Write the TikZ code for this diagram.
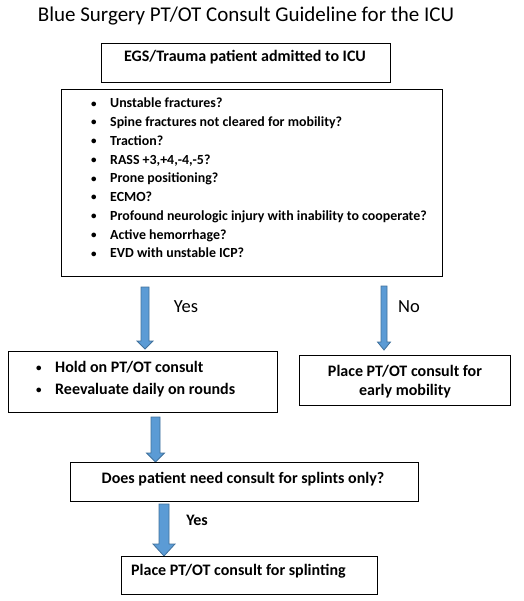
\documentclass[tikz,border=0pt]{standalone}
\usepackage{fontspec}
\setmainfont{Carlito}
\definecolor{arrfill}{HTML}{5B9BD5}
\definecolor{arrline}{HTML}{41719C}
\tikzset{
  box/.style={draw=black, line width=1.2pt, anchor=north west, inner sep=0pt},
  txt/.style={inner sep=0pt, font=\bfseries\fontsize{16}{19}\selectfont},
  listtxt/.style={inner sep=0pt, font=\bfseries\fontsize{13.9}{18.75}\selectfont},
  plain/.style={inner sep=0pt, font=\fontsize{18.5}{22}\selectfont},
  titletxt/.style={inner sep=0pt, font=\fontsize{21}{25}\selectfont},
  barrow/.style={fill=arrfill, draw=arrline, line width=0.8pt, line join=miter}
}
\newcommand{\blockarrow}[6]{% x, ytop, ytip, halfshaft, halfhead, headlen
  \draw[barrow] ({#1-#4},#2) -- ({#1+#4},#2) -- ({#1+#4},{#3-#6}) -- ({#1+#5},{#3-#6}) -- (#1,#3) -- ({#1-#5},{#3-#6}) -- ({#1-#4},{#3-#6}) -- cycle;}
\newcommand{\bul}[1]{\makebox[#1][l]{\raisebox{0.8pt}{\fontsize{11}{11}\selectfont\textbullet}}}
\begin{document}
\begin{tikzpicture}[x=1pt,y=-1pt]
\useasboundingbox (0,0) rectangle (523,601);
% title
\node[titletxt, anchor=base] (title) at (246,22) {Blue Surgery PT/OT Consult Guideline for the ICU};
% admitted box
\node[box, minimum width=289pt, minimum height=39pt] (adm) at (101,43) {};
\node[txt, anchor=base] (admt) at (245,62) {EGS/Trauma patient admitted to ICU};
% question list box
\node[box, minimum width=381pt, minimum height=187pt] (q) at (61,89) {};
\foreach \t [count=\i] in {{Unstable fractures?},{Spine fractures not cleared for mobility?},{Traction?},{RASS +3,+4,-4,-5?},{Prone positioning?},{ECMO?},{Profound neurologic injury with inability to cooperate?},{Active hemorrhage?},{EVD with unstable ICP?}}
  \node[listtxt, anchor=base west] (q\i) at (91,{108+(\i-1)*18.75}) {\bul{19pt}\t};
% arrows yes / no
\blockarrow{145}{287}{349}{4}{8}{8}
\node[plain, anchor=base] (yes1) at (186,312) {Yes};
\blockarrow{384}{286}{350}{3}{6.5}{8}
\node[plain, anchor=base] (no1) at (409,312) {No};
% hold box
\node[box, minimum width=269pt, minimum height=61pt] (hold) at (8,351) {};
\node[txt, anchor=base west] (hold1) at (36,372) {\bul{19pt}Hold on PT/OT consult};
\node[txt, anchor=base west] (hold2) at (36,394) {\bul{19pt}Reevaluate daily on rounds};
% place box
\node[box, minimum width=211pt, minimum height=50pt] (place) at (299,355) {};
\node[txt, anchor=base, align=center] (placet) at (405,395) {Place PT/OT consult for\\early mobility};
% arrow to question
\blockarrow{155.5}{417}{462}{4.5}{9}{9}
\node[box, minimum width=348pt, minimum height=39pt] (spl) at (70,462) {};
\node[txt, anchor=base] (splt) at (243,483) {Does patient need consult for splints only?};
% arrow to final
\blockarrow{164}{504}{556}{5}{11}{12}
\node[txt, anchor=base] (yes2) at (197,525) {Yes};
\node[box, minimum width=256pt, minimum height=38pt] (fin) at (121,556) {};
\node[txt, anchor=base west] (fint) at (131,575) {Place PT/OT consult for splinting};
\end{tikzpicture}
\end{document}
